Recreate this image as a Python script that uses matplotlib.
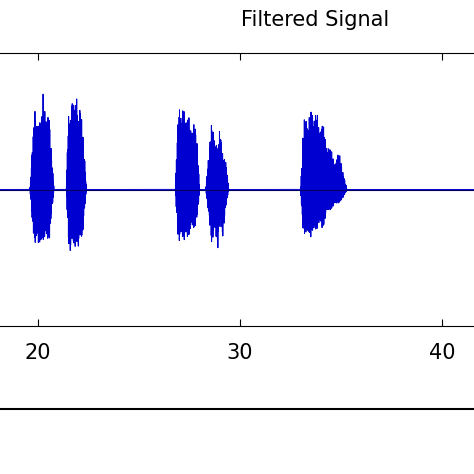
import numpy as np
import matplotlib
matplotlib.use("Agg")
import matplotlib.pyplot as plt

title = "Filtered Signal"
xticks = [20, 30, 40]
# burst envelopes: x positions, positive peak, negative peak
env_x   = [19.6, 19.75, 19.85, 19.95, 20.05, 20.15, 20.25, 20.4, 20.55, 20.65, 20.8,
           21.4, 21.5, 21.6, 21.7, 21.8, 21.9, 22.0, 22.1, 22.2, 22.3, 22.4,
           26.8, 26.9, 27.0, 27.1, 27.2, 27.3, 27.45, 27.6, 27.75, 27.9, 28.0,
           28.3, 28.45, 28.6, 28.75, 28.9, 29.0, 29.15, 29.3, 29.45,
           33.0, 33.1, 33.2, 33.35, 33.5, 33.65, 33.8, 33.95, 34.1, 34.3, 34.5, 34.7, 34.9, 35.1, 35.3]
env_top = [0.0, 0.40, 0.58, 0.45, 0.50, 0.48, 0.70, 0.50, 0.55, 0.30, 0.0,
           0.0, 0.55, 0.50, 0.68, 0.58, 0.70, 0.50, 0.62, 0.45, 0.25, 0.0,
           0.0, 0.45, 0.60, 0.50, 0.63, 0.48, 0.55, 0.40, 0.50, 0.30, 0.0,
           0.0, 0.25, 0.50, 0.35, 0.30, 0.45, 0.25, 0.20, 0.0,
           0.0, 0.35, 0.55, 0.45, 0.60, 0.50, 0.58, 0.40, 0.50, 0.30, 0.30, 0.18, 0.28, 0.12, 0.0]
env_bot = [0.0, -0.30, -0.40, -0.33, -0.42, -0.36, -0.38, -0.32, -0.40, -0.20, 0.0,
           0.0, -0.38, -0.46, -0.34, -0.44, -0.38, -0.42, -0.32, -0.38, -0.15, 0.0,
           0.0, -0.32, -0.38, -0.30, -0.40, -0.32, -0.36, -0.25, -0.30, -0.18, 0.0,
           0.0, -0.18, -0.40, -0.28, -0.44, -0.22, -0.35, -0.12, 0.0,
           0.0, -0.28, -0.33, -0.30, -0.35, -0.28, -0.30, -0.22, -0.30, -0.15, -0.15, -0.10, -0.10, -0.06, 0.0]

t = np.linspace(18, 42, 40000)
s = np.sin(2 * np.pi * 45 * t) * (0.55 + 0.45 * np.abs(np.sin(2 * np.pi * 6.3 * t + 1.0)))
top = np.interp(t, env_x, env_top)
bot = np.interp(t, env_x, env_bot)
y = np.where(s > 0, top * s, -bot * s)

fig = plt.figure(figsize=(4.74, 4.74), dpi=100)
px = 20.2
x0 = 20 - 38 / px
ax = fig.add_axes([0, 1 - 326 / 474, 1, (326 - 53) / 474])
ax.plot(t, y, color="#0000d0", lw=0.7)
ax.axhline(0, color="#000060", lw=0.8)
ax.set_xlim(x0, x0 + 474 / px)
ax.set_ylim(-1, 1)
ax.set_xticks(xticks)
ax.set_yticks([])
for sp in ["left", "right"]:
    ax.spines[sp].set_visible(False)
ax.tick_params(axis="x", direction="in", top=True, length=5, labelsize=15, pad=12)
fig.text(315 / 474, 1 - 20 / 474, title, ha="center", va="center", fontsize=15)

ax2 = fig.add_axes([0, -0.2, 1, 1 - 409 / 474 + 0.2])
for sp in ["left", "right", "bottom"]:
    ax2.spines[sp].set_visible(False)
ax2.spines["top"].set_linewidth(1.5)
ax2.set_xticks([]); ax2.set_yticks([])
fig.savefig("out.png", dpi=100)
